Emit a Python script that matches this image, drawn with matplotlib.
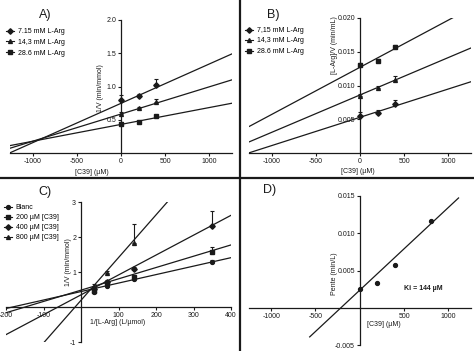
import numpy as np
import matplotlib
matplotlib.use('Agg')
import matplotlib.pyplot as plt
from matplotlib.lines import Line2D

plt.rcParams['font.family'] = ['Liberation Sans', 'DejaVu Sans']

# ---- data ----
# A) Dixon plot 1/V vs [C39]
conc_c39 = [0, 200, 400]
labels_A = ['7.15 mM L-Arg', '14,3 mM L-Arg', '28.6 mM L-Arg']
labels_B = ['7,15 mM L-Arg', '14,3 mM L-Arg', '28.6 mM L-Arg']
a_715 = [0.80, 0.85, 1.02]
a_715_err = [0.07, 0.03, 0.09]
a_143 = [0.59, 0.67, 0.76]
a_143_err = [0.02, 0.02, 0.05]
a_286 = [0.44, 0.47, 0.55]
a_286_err = [0.02, 0.01, 0.01]
a_slope = [5.93e-4, 4.1e-4, 2.54e-4]
a_inter = [0.747, 0.586, 0.43]

# B) [L-Arg]/V vs [C39]
b_715 = [0.00553, 0.00597, 0.00726]
b_715_err = [0.0006, 0.0004, 0.0006]
b_143 = [0.0085, 0.00967, 0.0108]
b_143_err = [0.0003, 0.0003, 0.0006]
b_286 = [0.0130, 0.01363, 0.01575]
b_286_err = [0.0004, 0.0003, 0.0003]
b_slope = [4.2e-6, 5.55e-6, 7.0e-6]
b_inter = [0.00529, 0.0086, 0.0127]

# C) Lineweaver-Burk 1/V vs 1/[L-Arg]
inv_arg = [35, 70, 140, 350]
labels_C = ['Blanc', '200 µM [C39]', '400 µM [C39]', '800 µM [C39]']
c_blanc = [0.45, 0.60, 0.80, 1.30]
c_blanc_err = [0.03, 0.03, 0.04, 0.05]
c_200 = [0.48, 0.70, 0.86, 1.58]
c_200_err = [0.03, 0.04, 0.04, 0.15]
c_400 = [0.52, 0.73, 1.09, 2.33]
c_400_err = [0.05, 0.05, 0.06, 0.43]
c_800 = [0.59, 0.99, 1.85]
c_800_err = [0.07, 0.06, 0.52]
c_slope = [0.00242, 0.00323, 0.00568, 0.0122]
c_inter = [0.45, 0.49, 0.356, 0.20]

# D) slope replot
d_conc = [0, 200, 400, 800]
d_pente = [0.0025, 0.00335, 0.0057, 0.01166]
d_slope = 1.11e-5
d_inter = 0.00236
d_range = [-565, 1115]

W, H = 474, 351
fig = plt.figure(figsize=(W / 100, H / 100), dpi=100)
K = '#1a1a1a'


def box(l, r, t, b):
    return [l / W, 1 - b / H, (r - l) / W, (b - t) / H]


def style(ax, xlim, ylim, xt, xl, yt, yl):
    ax.set_xlim(xlim)
    ax.set_ylim(ylim)
    ax.patch.set_visible(False)
    for s in ['top', 'right']:
        ax.spines[s].set_visible(False)
    for s in ['left', 'bottom']:
        ax.spines[s].set_position(('data', 0))
        ax.spines[s].set_linewidth(0.9)
        ax.spines[s].set_color(K)
    ax.set_xticks(xt)
    ax.set_xticklabels(xl)
    ax.set_yticks(yt)
    ax.set_yticklabels(yl)
    ax.tick_params(labelsize=5, length=2, width=0.8, pad=1.5, colors=K)


def ftext(x, y, s, **kw):
    fig.text(x / W, 1 - y / H, s, color=K, ha='center', va='center', **kw)


def errs(ax, x, y, e, m, ms=3, mfc=K):
    ax.errorbar(x, y, yerr=[np.zeros(len(e)), e], fmt=m, color=K, ms=ms, mfc=mfc,
                capsize=1.5, elinewidth=0.8, capthick=0.8, zorder=4)


def fit(ax, xr, k, b):
    xx = np.array(xr, dtype=float)
    ax.plot(xx, b + k * xx, color=K, lw=0.9, zorder=3)


# ---- A ----
axA = fig.add_axes(box(10.4, 231.6, 20, 153))
style(axA, (-1250, 1250), (0, 2.0), [-1000, -500, 0, 500, 1000],
      ['-1000', '-500', '0', '500', '1000'], [0.5, 1.0, 1.5, 2.0],
      ['0.5', '1.0', '1.5', '2.0'])
marks = ['D', '^', 's']
for y, e, m, k, b in zip([a_715, a_143, a_286], [a_715_err, a_143_err, a_286_err],
                         marks, a_slope, a_inter):
    errs(axA, conc_c39, y, e, m, ms=2.8)
    fit(axA, axA.get_xlim(), k, b)
ftext(101, 88, '1/V (min/mmol)', fontsize=5, rotation=90)
ftext(92, 172, '[C39] (µM)', fontsize=5)
ftext(45, 15, 'A)', fontsize=9)
hA = [Line2D([], [], color=K, marker=m, ms=2.8, lw=0.8) for m in marks]
fig.legend(hA, labels_A, loc='upper left', bbox_to_anchor=(6 / W, 1 - 28 / H),
           frameon=False, fontsize=5, handlelength=1.2, handletextpad=0.5,
           labelspacing=0.55, borderpad=0, borderaxespad=0)

# ---- B ----
axB = fig.add_axes(box(249.4, 470.6, 18, 153))
style(axB, (-1250, 1250), (0, 0.020), [-1000, -500, 0, 500, 1000],
      ['-1000', '-500', '0', '500', '1000'], [0.005, 0.010, 0.015, 0.020],
      ['0.005', '0.010', '0.015', '0.020'])
for y, e, m, k, b in zip([b_715, b_143, b_286], [b_715_err, b_143_err, b_286_err],
                         marks, b_slope, b_inter):
    errs(axB, conc_c39, y, e, m, ms=2.8)
    fit(axB, axB.get_xlim(), k, b)
ftext(335, 45, '[L-Arg]/V (min/mL)', fontsize=5, rotation=90)
ftext(358, 171, '[C39] (µM)', fontsize=5)
ftext(273, 15, 'B)', fontsize=9)
fig.legend(hA, labels_B, loc='upper left', bbox_to_anchor=(245 / W, 1 - 27 / H),
           frameon=False, fontsize=5, handlelength=1.2, handletextpad=0.5,
           labelspacing=0.5, borderpad=0, borderaxespad=0)

# ---- C ----
axC = fig.add_axes(box(6, 231, 202.3, 342.3))
style(axC, (-200, 400), (-1, 3), [-200, -100, 100, 200, 300, 400],
      ['-200', '-100', '100', '200', '300', '400'], [-1, 1, 2, 3],
      ['-1', '1', '2', '3'])
marksC = ['o', 's', 'D', '^']
seriesC = [(c_blanc, c_blanc_err), (c_200, c_200_err), (c_400, c_400_err),
           (c_800, c_800_err)]
for (y, e), m, k, b in zip(seriesC, marksC, c_slope, c_inter):
    errs(axC, inv_arg[:len(y)], y, e, m, ms=2.8)
    fit(axC, axC.get_xlim(), k, b)
ftext(68, 262, '1/V (min/mmol)', fontsize=5, rotation=90)
ftext(118, 323, '1/[L-Arg] (L/µmol)', fontsize=5)
ftext(45, 192, 'C)', fontsize=9)
hC = [Line2D([], [], color=K, marker=m, ms=2.8, lw=0.8) for m in marksC]
fig.legend(hC, labels_C, loc='upper left', bbox_to_anchor=(4 / W, 1 - 204 / H),
           frameon=False, fontsize=5, handlelength=1.2, handletextpad=0.5,
           labelspacing=0.45, borderpad=0, borderaxespad=0)

# ---- D ----
axD = fig.add_axes(box(249, 470.5, 196, 345))
style(axD, (-1250, 1250), (-0.005, 0.015), [-1000, -500, 500, 1000],
      ['-1000', '-500', '500', '1000'], [-0.005, 0.005, 0.010, 0.015],
      ['-0.005', '0.005', '0.010', '0.015'])
axD.plot(d_conc, d_pente, 'o', color=K, ms=2.8, zorder=4)
fit(axD, d_range, d_slope, d_inter)
ftext(334, 274, 'Pente (min/L)', fontsize=5, rotation=90)
ftext(384, 325, '[C39] (µM)', fontsize=5)
ftext(423, 289, 'Ki = 144 µM', fontsize=5, fontweight='bold')
ftext(270, 190, 'D)', fontsize=9)

# panel separators
fig.add_artist(Line2D([239.5 / W] * 2, [0, 1], color=K, lw=1.6))
fig.add_artist(Line2D([0, 1], [1 - 178 / H] * 2, color=K, lw=1.6))

fig.savefig('out.png', dpi=100)
